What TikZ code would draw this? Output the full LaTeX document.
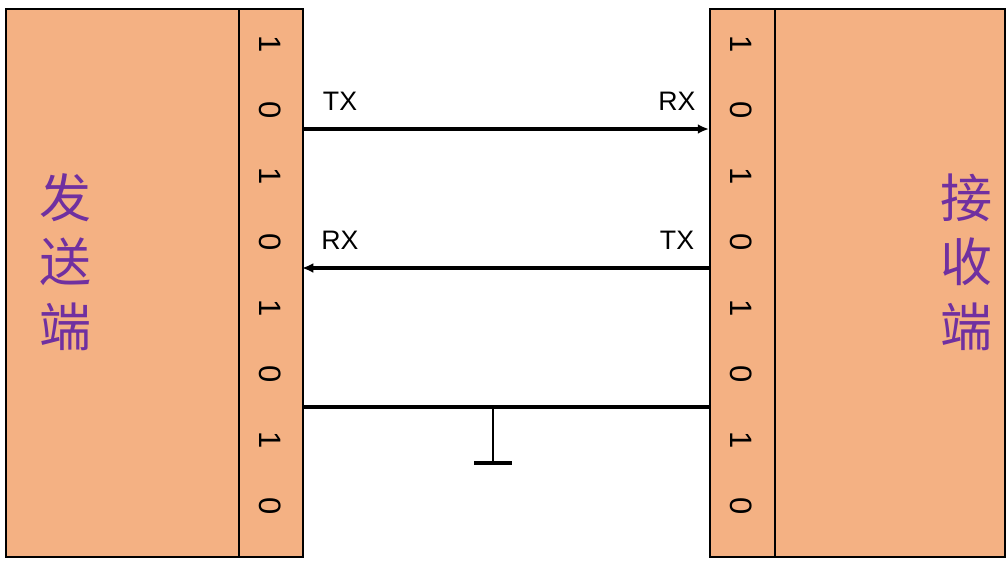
\documentclass[tikz,border=0pt]{standalone}
\usepackage{fontspec}
\setmainfont{Liberation Sans}
\newfontfamily\cjk{Noto Sans CJK SC}
\usetikzlibrary{arrows.meta}
\definecolor{boxfill}{HTML}{F4B183}
\definecolor{zhpurple}{HTML}{7030A0}

\begin{document}
\begin{tikzpicture}[x=0.025cm,y=-0.025cm,
    box/.style={draw,line width=1.6pt,fill=boxfill,inner sep=0pt,anchor=north west},
    bit/.style={rotate=-90,font=\fontsize{22}{22}\selectfont},
    zh/.style={text=zhpurple,font=\cjk\fontsize{37}{46}\selectfont,align=center},
    sig/.style={line width=2.4pt},
    lbl/.style={font=\fontsize{19}{19}\selectfont}]
        \useasboundingbox (0,0) rectangle (1006,566);
        % boxes
        \node[box,minimum width=5.825cm,minimum height=13.7cm](sender) at (5,8){};
        \node[box,minimum width=1.6cm,minimum height=13.7cm](sstrip) at (238,8){};
        \node[box,minimum width=1.625cm,minimum height=13.7cm](rstrip) at (709,8){};
        \node[box,minimum width=5.75cm,minimum height=13.7cm](receiver) at (774,8){};
        \node[zh](sname) at (66,262){发\\送\\端};
        \node[zh](rname) at (967,262){接\\收\\端};
        % bits
        \foreach \b [count=\i from 0] in {1,0,1,0,1,0,1,0}{
            \node[bit](sb\i) at (270,44+66*\i){\b};
            \node[bit](rb\i) at (741,44+66*\i){\b};
        }
        % lines
        \coordinate (stx) at (302,129);
        \coordinate (rrx) at (709,129);
        \coordinate (srx) at (302,268);
        \coordinate (rtx) at (709,268);
        \coordinate (sgnd) at (302,407);
        \coordinate (rgnd) at (709,407);
        \coordinate (gtop) at (493,407);
        \coordinate (gbot) at (493,463);
        \draw[sig,-{Latex[length=8pt,width=7pt]}](stx)--(rrx);
        \draw[sig,-{Latex[length=8pt,width=7pt]}](rtx)--(srx);
        \draw[sig](sgnd)--(rgnd);
        \draw[line width=1.8pt](gtop)--(gbot);
        \draw[line width=3.2pt]([xshift=-0.475cm]gbot)--([xshift=0.475cm]gbot);
        \node[lbl](l1) at (340,101){TX};
        \node[lbl](l2) at (677,101){RX};
        \node[lbl](l3) at (340,240){RX};
        \node[lbl](l4) at (677,240){TX};
\end{tikzpicture}
\end{document}
